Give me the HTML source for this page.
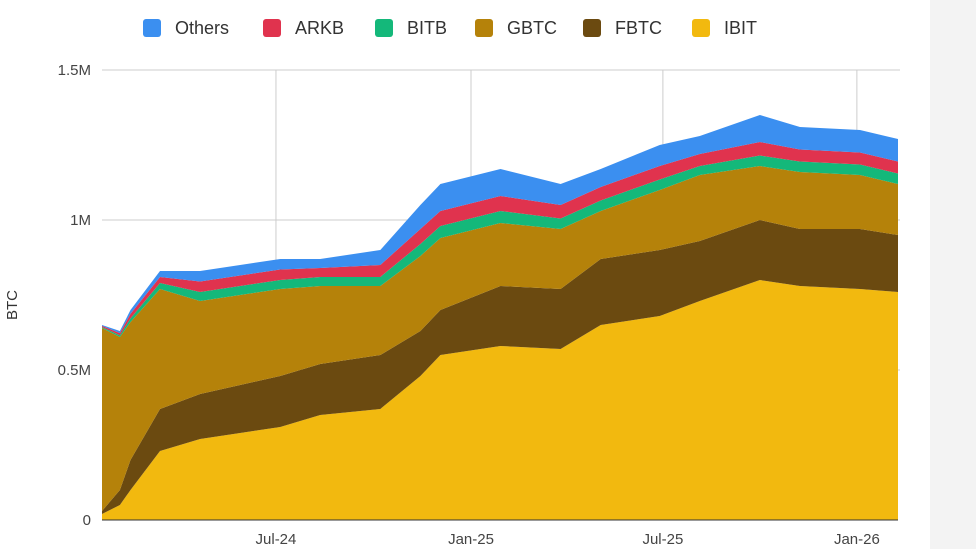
<!DOCTYPE html>
<html><head><meta charset="utf-8"><style>
html,body{margin:0;padding:0;background:#fff;}
body{width:976px;height:549px;overflow:hidden;position:relative;font-family:"Liberation Sans",sans-serif;}
#side{position:absolute;left:930px;top:0;width:46px;height:549px;background:#f3f3f3;}
</style></head><body>
<div id="side"></div>
<svg id="chart" width="976" height="549" style="position:absolute;left:0;top:0"></svg>
<script>
const days=[0,17,27,55,93,131,169,207,264,302,321,378,435,473,529,567,624,662,719,755];
const seriesNames=["IBIT","FBTC","GBTC","BITB","ARKB","Others"];
const ibit=[.02,.05,.1,.23,.27,.29,.31,.35,.37,.48,.55,.58,.57,.65,.68,.73,.80,.78,.77,.76];
const fbtc=[.01,.05,.10,.14,.15,.16,.17,.17,.18,.15,.15,.20,.20,.22,.22,.20,.20,.19,.20,.19];
const gbtc=[.61,.51,.46,.40,.31,.30,.29,.26,.23,.25,.24,.21,.20,.16,.20,.22,.18,.19,.18,.17];
const bitb=[.003,.006,.012,.02,.03,.03,.03,.03,.03,.04,.04,.04,.035,.035,.035,.03,.035,.035,.035,.035];
const arkb=[.004,.007,.015,.02,.035,.035,.035,.03,.04,.05,.05,.05,.045,.045,.045,.04,.045,.04,.04,.04];
const others=[.003,.007,.013,.02,.035,.035,.035,.03,.05,.08,.09,.09,.07,.06,.07,.06,.09,.075,.075,.075];
const yTicks=[0,0.5,1,1.5];
const yTickLabels=["0","0.5M","1M","1.5M"];
const xTickDays=[165,350,532,716];
const xTickLabels=["Jul-24","Jan-25","Jul-25","Jan-26"];
const colors=["#f2b90f","#6b4a10","#b5820a","#14b87a","#e0334e","#3b8ff0"];
const svg=document.getElementById('chart');
const NS="http://www.w3.org/2000/svg";
const X0=102,X1=898,Y0=520,Y1=70;
const x=d=>X0+(d-days[0])/(days[days.length-1]-days[0])*(X1-X0);
const y=v=>Y0-v/1.5*(Y0-Y1);
function mk(t,a){const e=document.createElementNS(NS,t);for(const k in a)e.setAttribute(k,a[k]);svg.appendChild(e);return e;}
yTicks.forEach((v,i)=>{
 if(v>0){const g=mk('line',{x1:X0,x2:900,y1:y(v),y2:y(v),stroke:'#cccccc','stroke-width':1});
 
 }
 const t=mk('text',{x:91,y:y(v)+5,'text-anchor':'end','font-size':15,fill:'#444'});t.textContent=yTickLabels[i];
 
 
});
xTickDays.forEach((d,i)=>{
 const g=mk('line',{x1:x(d),x2:x(d),y1:Y1,y2:Y0,stroke:'#cccccc','stroke-width':1});
 
 
 const t=mk('text',{x:x(d),y:549-5,'text-anchor':'middle','font-size':15,fill:'#444'});t.textContent=xTickLabels[i];
 
 
});
const all=[ibit,fbtc,gbtc,bitb,arkb,others];
let base=days.map(()=>0);
all.forEach((s,k)=>{
 const top=base.map((b,i)=>b+s[i]);
 let p=days.map((d,i)=>(i?'L':'M')+x(d).toFixed(1)+','+y(top[i]).toFixed(1)).join('');
 for(let i=days.length-1;i>=0;i--)p+='L'+x(days[i]).toFixed(1)+','+y(base[i]).toFixed(1);
 const a=mk('path',{d:p+'Z',fill:colors[k]});
 
 
 base=top;
});
const ax=mk('line',{x1:X0,x2:X1,y1:Y0,y2:Y0,stroke:'#333','stroke-width':1});


const yt=mk('text',{x:17,y:305,'text-anchor':'middle','font-size':15,fill:'#333',transform:'rotate(-90 17 305)'});yt.textContent='BTC';


const legendOrder=[5,4,3,2,1,0];
const legX=[143,263,375,475,583,692];
legendOrder.forEach((k,i)=>{
 const r=mk('rect',{x:legX[i],y:19,width:18,height:18,rx:3,fill:colors[k]});
 
 
 const t=mk('text',{x:legX[i]+32,y:34,'font-size':18,fill:'#333'});t.textContent=seriesNames[k];
 
 
});
</script>
</body></html>
